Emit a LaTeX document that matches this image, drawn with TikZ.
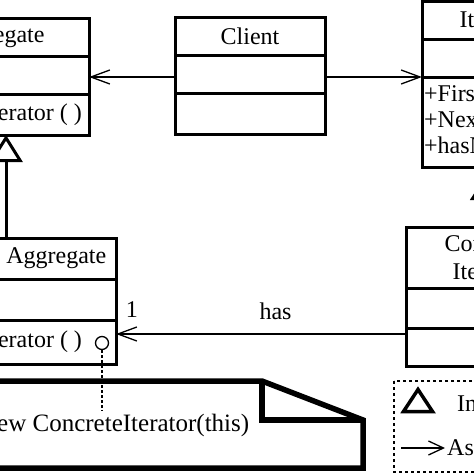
\documentclass[tikz,border=0pt]{standalone}
\usepackage{fontspec}
\setmainfont{Liberation Serif}
\usetikzlibrary{arrows.meta,positioning,calc}

\begin{document}
\begin{tikzpicture}[
  x=1pt, y=-1pt,
  font=\fontsize{24pt}{28pt}\selectfont,
  part/.style={draw, line width=3pt, minimum width=#1, inner sep=0pt,
    outer sep=0pt, align=center},
  assoc/.style={-{Straight Barb[length=19pt,width=14pt]}, line width=1.3pt},
  gen/.style={-{Triangle[open,length=27pt,width=33pt]}, line width=3pt},
  tag/.style={inner sep=0pt},
  notepath/.style={line width=5.5pt, line join=miter},
  legendbox/.style={line width=1.5pt, dash pattern=on 3pt off 3pt}
]
  \useasboundingbox (0,0) rectangle (474,474);
  \clip (0,0) rectangle (474,474);

  % Aggregate
  \node[part=189pt, minimum height=38pt] (aggrName) at (-5.5,37) {Aggregate};
  \node[part=189pt, minimum height=38pt] (aggrAttr) at (-5.5,75) {};
  \node[part=189pt, minimum height=41pt] (aggrOps) at (-5.5,114.5) {+CreateIterator ( )};

  % Client
  \node[part=150pt, minimum height=38pt] (clientName) at (250,36) {Client};
  \node[part=150pt, minimum height=38pt] (clientAttr) at (250,74) {};
  \node[part=150pt, minimum height=41pt] (clientOps) at (250,113.5) {};

  % Iterator
  \node[part=146pt, minimum height=38pt] (iterName) at (495,20) {Iterator};
  \node[part=146pt, minimum height=38pt] (iterAttr) at (495,58) {};
  \node[part=146pt, minimum height=90pt] (iterOps) at (495,122) {};
  \node[tag, anchor=west, align=left, font=\fontsize{24pt}{26pt}\selectfont]
    (iterList) at ([xshift=2pt]iterOps.west) {+First()\\+Next()\\+hasNext()};

  % ConcreteAggregate
  \node[part=212pt, minimum height=41pt] (caggrName) at (10,258.5) {Concrete Aggregate};
  \node[part=212pt, minimum height=41pt] (caggrAttr) at (10,299.5) {};
  \node[part=212pt, minimum height=44pt] (caggrOps) at (10,342) {};
  \node[tag, anchor=west] (caggrOp) at ([xshift=3pt]caggrOps.west) {+CreateIterator ( )};
  \node[draw, circle, line width=1.3pt, minimum size=13pt, inner sep=0pt] (impl) at (102,343) {};

  % ConcreteIterator
  \node[part=164pt, minimum height=61pt] (citerName) at (488,257.5) {Concrete\\Iterator};
  \node[part=164pt, minimum height=40pt] (citerAttr) at (488,308) {};
  \node[part=164pt, minimum height=38pt] (citerOps) at (488,347) {};

  % Arrows
  \draw[assoc] (clientAttr.west |- iterAttr.south) -- (aggrAttr.east |- iterAttr.south);
  \draw[assoc] (clientAttr.east |- iterAttr.south) -- (iterAttr.south west);
  \draw[gen] ([xshift=-4pt]caggrName.north) -- ([xshift=-4pt]caggrName.north |- aggrOps.south);
  \draw[assoc] ([yshift=-6pt]citerAttr.south west) -- ([yshift=-6pt]citerAttr.south west -| caggrOps.east)
    node[tag, pos=0.45, above=14pt] {has}
    node[tag, pos=0.945, above=16pt] {1};
  \draw[-{Triangle[length=8pt,width=10pt]}, line width=1.2pt]
    ([xshift=-13pt]citerName.north) -- ([xshift=-13pt,yshift=35pt]citerName.north);

  % Note
  \draw[notepath] (-20,381) -- (262,381) -- (363,420) -- (363,468) -- (-20,468);
  \draw[notepath] (262,381) -- (262,420) -- (363,420);
  \node[tag, inner sep=2pt, font=\fontsize{25pt}{29pt}\selectfont] (noteText) at (84,425)
    {return new ConcreteIterator(this)};
  \draw[line width=1.2pt, dash pattern=on 3pt off 2pt] (impl.south) -- (impl.south |- noteText.north);

  % Legend
  \draw[legendbox] (394,381) rectangle (600,472);
  \draw[line width=3.5pt, line join=miter] (403.5,411.5) -- (418,389.5) -- (432.5,411.5) -- cycle;
  \node[tag, anchor=west] (inhText) at (457,403) {Inheritance};
  \node[tag, anchor=west] (assText) at (447,448) {Association};
  \coordinate (legTail) at (401,448);
  \draw[-{Straight Barb[length=15pt,width=14pt]}, line width=1.3pt] (legTail) -- ([xshift=-2pt]assText.west);
\end{tikzpicture}
\end{document}
